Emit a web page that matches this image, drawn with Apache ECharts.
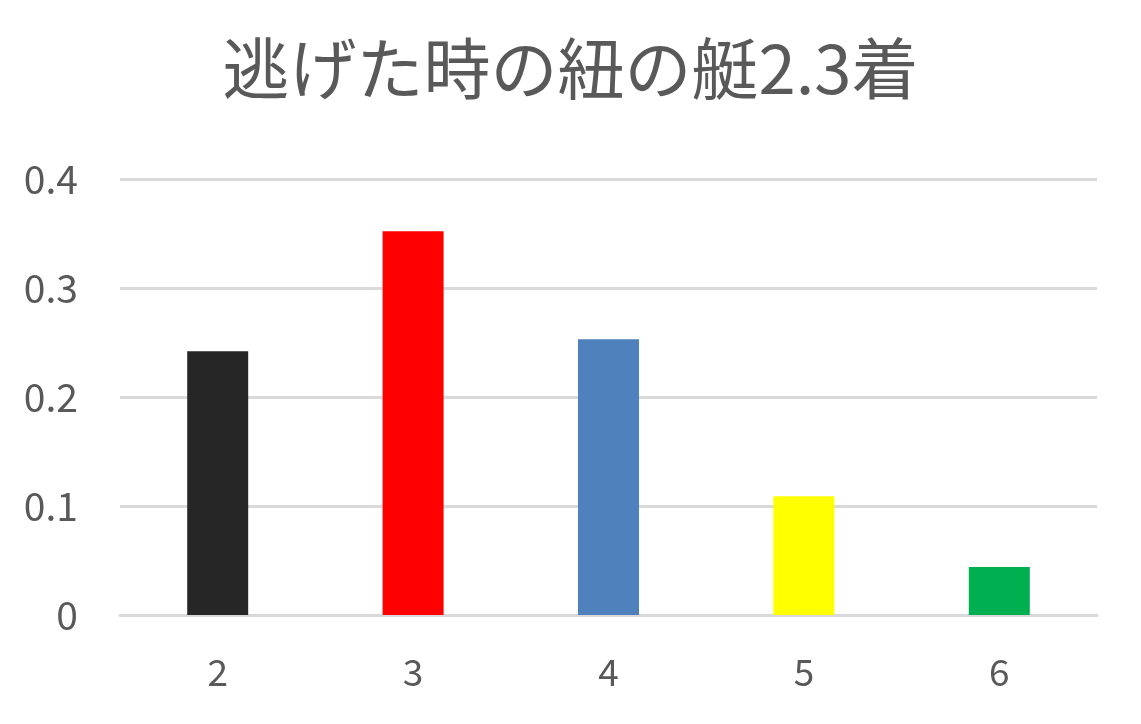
<!DOCTYPE html>
<html>
<head>
<meta charset="utf-8">
<script src="https://cdn.jsdelivr.net/npm/echarts@6/dist/echarts.min.js"></script>
<style>
html, body { margin: 0; padding: 0; background: #fff; }
#chart { width: 1141px; height: 724px; }
</style>
</head>
<body>
<div id="chart"></div>
<script>
// データ
var categories = ['2', '3', '4', '5', '6'];
var values = [0.242, 0.352, 0.253, 0.109, 0.044];
var barColors = ['#262626', '#FF0000', '#4F81BD', '#FFFF00', '#00B050'];

var myChart = echarts.init(document.getElementById('chart'));

var option = {
    backgroundColor: '#fff',
    animation: false,
    title: {
        text: '逃げた時の紐の艇2.3着',
        left: 'center',
        top: 30,
        textStyle: {
            color: '#595959',
            fontSize: 67,
            fontWeight: 'normal',
            fontFamily: 'Noto Sans CJK JP'
        }
    },
    grid: {
        left: 120,
        right: 44,
        top: 179,
        bottom: 109
    },
    xAxis: {
        type: 'category',
        data: categories,
        axisLine: { show: true, lineStyle: { color: '#d9d9d9', width: 3 } },
        axisTick: { show: false },
        axisLabel: {
            color: '#595959',
            fontSize: 37,
            margin: 38,
            fontFamily: 'Noto Sans CJK JP'
        }
    },
    yAxis: {
        type: 'value',
        min: 0,
        max: 0.4,
        interval: 0.1,
        axisLine: { show: false },
        axisTick: { show: false },
        splitLine: { lineStyle: { color: '#d9d9d9', width: 3 } },
        axisLabel: {
            color: '#595959',
            fontSize: 39,
            margin: 42,
            fontFamily: 'Noto Sans CJK JP'
        }
    },
    series: [{
        type: 'bar',
        barWidth: 61,
        data: values.map(function (v, i) {
            return { value: v, itemStyle: { color: barColors[i] } };
        })
    }]
};

myChart.setOption(option);
</script>
</body>
</html>
